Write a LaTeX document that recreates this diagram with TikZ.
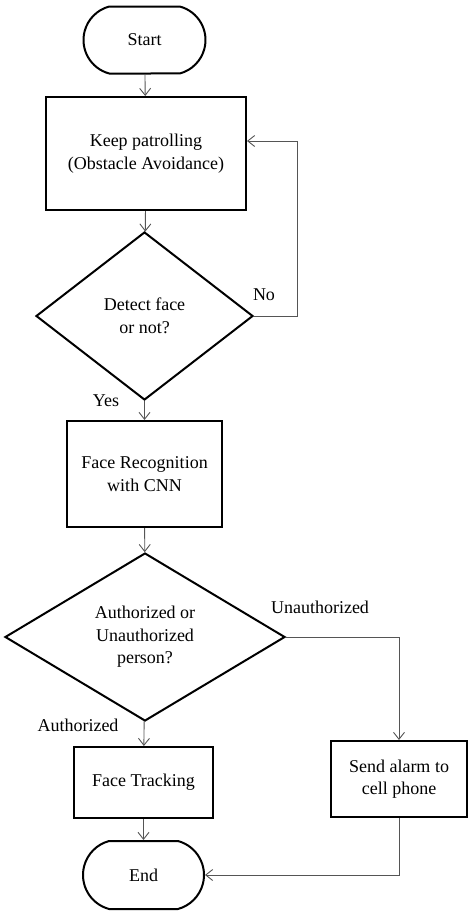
\documentclass[tikz,border=0pt]{standalone}
\usepackage{fontspec}
\setmainfont{Liberation Serif}
\usepackage{tikz}
\usetikzlibrary{arrows.meta}
\usetikzlibrary{shapes.geometric}
\usetikzlibrary{shapes.misc}

\definecolor{linegray}{RGB}{85,85,85}

\tikzset{
    stepbox/.style = {draw, line width = 2pt, align = center, inner sep = 0pt},
    termbox/.style = {draw, line width = 2pt, rounded rectangle, rounded rectangle arc length = 150, inner sep = 0pt},
    choice/.style = {draw, line width = 2pt, diamond, align = center, inner sep = 0pt},
    flow/.style = {draw = linegray, line width = 0.9pt, -{Straight Barb[length = 7pt, width = 11pt]}},
    plain/.style = {draw = linegray, line width = 0.9pt}
}

\begin{document}
\begin{tikzpicture}[x = 1pt, y = -1pt, font = \fontsize{18}{22.5}\selectfont]
    \useasboundingbox (0,0) rectangle (474,916);

    % main column
    \node [termbox, minimum width = 122, minimum height = 67] (start) at (144.5, 40) {Start};
    \node [stepbox, minimum width = 200, minimum height = 113] (patrol) at (146, 153.5) {Keep patrolling\\(Obstacle Avoidance)};
    \node [choice, minimum width = 217, minimum height = 168] (detect) at (144.5, 316) {Detect face\\or not?};
    \node [stepbox, minimum width = 155, minimum height = 106] (recog) at (144.5, 474) {Face Recognition\\with CNN};
    \node [choice, minimum width = 280, minimum height = 168] (auth) at (145, 637) {Authorized or\\Unauthorized\\person?};
    \node [stepbox, minimum width = 139, minimum height = 71] (track) at (143.5, 782.5) {Face Tracking};
    \node [termbox, minimum width = 121, minimum height = 68] (finish) at (143.5, 875) {End};

    % side branch
    \node [stepbox, minimum width = 136, minimum height = 76] (alarm) at (399, 779) {Send alarm to\\cell phone};

    \draw [flow] (start) -- (patrol);
    \draw [flow] (patrol) -- (detect);
    \draw [flow] (detect) -- (recog);
    \draw [flow] (recog) -- (auth);
    \draw [flow] (auth) -- (track);
    \draw [flow] (track) -- (finish);

    % no face: back to patrolling
    \coordinate (loop) at (297, 141);
    \draw [flow] (detect.east) -| (loop) -- (loop -| patrol.east);

    % unauthorized: alarm, then end
    \draw [flow] (auth.east) -| (alarm.north);
    \draw [flow] (alarm.south) |- (finish.east);

    % branch labels
    \node (no) at (264, 295) {No};
    \node (yes) at (106, 401) {Yes};
    \node (unauth) at (320, 607) {Unauthorized};
    \node (authd) at (78, 725) {Authorized};
\end{tikzpicture}
\end{document}
